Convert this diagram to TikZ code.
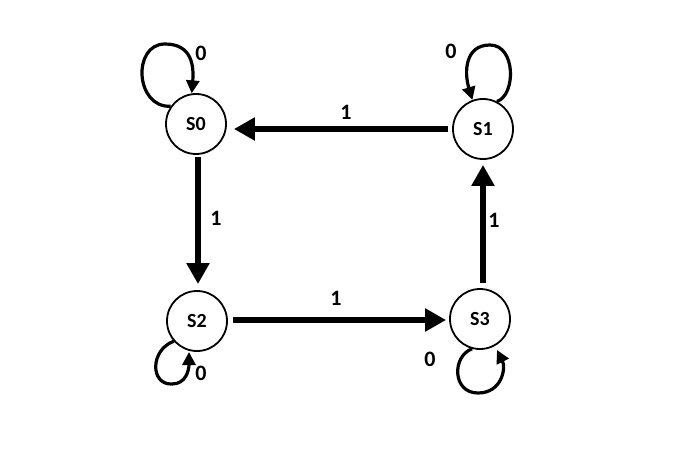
\documentclass[tikz,border=0pt]{standalone}
\usepackage{fontspec}
\setmainfont{Carlito}
\usetikzlibrary{arrows.meta}
\begin{document}
\begin{tikzpicture}[x=1pt,y=-1pt,
  state/.style={draw,circle,line width=1.8pt,minimum size=60pt,inner sep=0pt,font=\bfseries\fontsize{20}{20}\selectfont},
  thickarr/.style={line width=6pt,-{Triangle[length=21pt,width=22pt]}},
  looparr/.style={line width=3.2pt,-{Triangle[length=13pt,width=13pt]}},
  lbl/.style={font=\bfseries\fontsize{22}{22}\selectfont,inner sep=0pt}]
\useasboundingbox[fill=white] (0,0) rectangle (700,449);
\node[state] (S0) at (196,124) {S0};
\node[state] (S1) at (483,129) {S1};
\node[state] (S2) at (197,321) {S2};
\node[state] (S3) at (480,319) {S3};
% straight transitions
\draw[thickarr,shorten <=4pt,shorten >=7pt] (S1.west) -- (S1.west -| S0.east);
\draw[thickarr,shorten <=2pt,shorten >=6pt] (S0.south -| 198,0) -- (S2.north -| 198,0);
\draw[thickarr,shorten <=5pt,shorten >=3pt] (S2.east |- 0,320) -- (S3.west |- 0,320);
\draw[thickarr,shorten <=5pt,shorten >=5pt] (S3.north -| 483,0) -- (S1.south -| 483,0);
% self loops
\draw[looparr] (S0.145) .. controls (135,108) and (132,44) .. (165,44) .. controls (192,44) and (194,66) .. (S0.98);
\draw[looparr] (S1.63) .. controls (516,95) and (516,45) .. (490,45) .. controls (465,45) and (464,72) .. (S1.110);
\draw[looparr] (S2.221) .. controls (150,350) and (150,385) .. (172,384) .. controls (186,384) and (189,370) .. (189,352);
\draw[looparr] (S3.255) .. controls (452,356) and (452,393) .. (478,393) .. controls (502,393) and (506,368) .. (497,350);
% labels
\node[lbl] (l01) at (346,112) {1};
\node[lbl] (l02) at (216,218) {1};
\node[lbl] (l23) at (336,298) {1};
\node[lbl] (l31) at (494,220) {1};
\node[lbl] (z0) at (201,53) {0};
\node[lbl] (z1) at (451,51) {0};
\node[lbl] (z2) at (201,373) {0};
\node[lbl] (z3) at (430,359) {0};
\end{tikzpicture}
\end{document}
